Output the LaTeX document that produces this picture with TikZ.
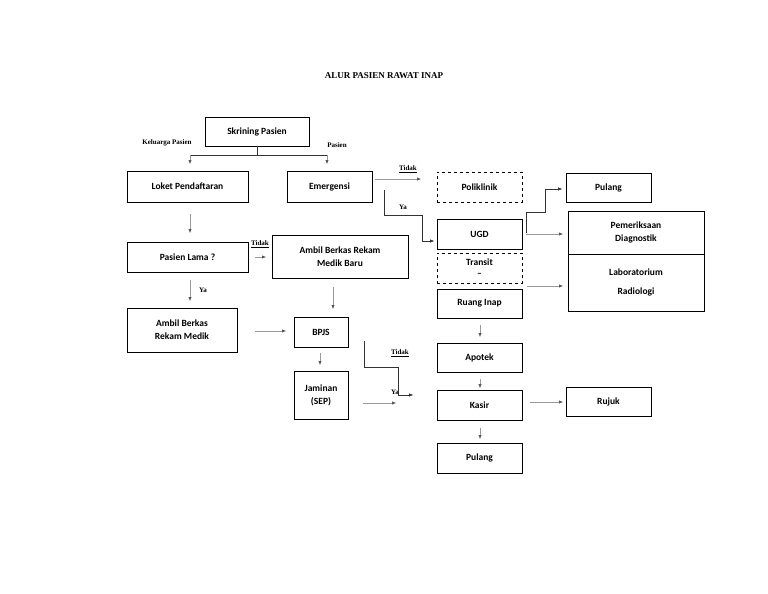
\documentclass[tikz,border=0pt]{standalone}
\usepackage{fontspec}
\setmainfont{Carlito}
\newfontfamily\lbl{Liberation Serif}
\usetikzlibrary{arrows.meta}
\begin{document}
\begin{tikzpicture}[x=1pt,y=-1pt,
 bx/.style={draw,thick,font=\bfseries\fontsize{9.5}{13}\selectfont,align=center,inner sep=0pt},
 dbx/.style={bx,dashed},
 ar/.style={draw=gray!80,-{Triangle[length=4pt,width=3pt,fill=black]}},
 ln/.style={draw=black!80},
 lb/.style={font=\lbl\bfseries\fontsize{7}{8}\selectfont,inner sep=0pt}]
\path[use as bounding box] (0,0) rectangle (768,594);
\newcommand{\bxx}[7][bx]{\node[#1,minimum width={#5-#3},minimum height={#6-#4}] (#2) at ({(#3+#5)/2},{(#4+#6)/2}) {#7};}
\node[font=\lbl\bfseries\fontsize{9}{10}\selectfont] (title) at (384,76) {ALUR PASIEN RAWAT INAP};
\bxx{skr}{205}{117}{309}{146}{Skrining Pasien}
\bxx{loket}{127}{171}{248}{202}{Loket Pendaftaran}
\bxx{emg}{287}{171}{372}{202}{Emergensi}
\bxx[dbx]{poli}{437}{172}{522}{202}{Poliklinik}
\bxx{pul1}{566}{173}{651}{202}{Pulang}
\bxx{ugd}{437}{219}{522}{249}{UGD}
\bxx{diag}{568}{211}{704}{254}{Pemeriksaan\\Diagnostik}
\bxx{lab}{568}{254}{704}{311}{Laboratorium\\[6pt]Radiologi}
\bxx[dbx]{trans}{437}{253}{522}{283}{Transit\\[-2pt]–}
\bxx{ri}{437}{289}{522}{318}{Ruang Inap}
\bxx{plama}{127}{242}{248}{272}{Pasien Lama ?}
\bxx{baru}{272}{235}{408}{278}{Ambil Berkas Rekam\\Medik Baru}
\bxx{arm}{127}{308}{237}{352}{Ambil Berkas\\Rekam Medik}
\bxx{bpjs}{294}{317}{348}{347}{BPJS}
\bxx{jam}{294}{371}{348}{419}{Jaminan\\(SEP)}
\bxx{apo}{437}{343}{522}{372}{Apotek}
\bxx{kasir}{437}{390}{522}{420}{Kasir}
\bxx{rujuk}{566}{387}{651}{416}{Rujuk}
\bxx{pul2}{437}{443}{522}{473}{Pulang}
% labels
\node[lb] (lk) at (167,143) {Keluarga Pasien};
\node[lb] (lp) at (337,145) {Pasien};
\node[lb] (lt1) at (408,169) {\underline{Tidak}};
\node[lb] (ly1) at (403,207) {Ya};
\node[lb] (lt2) at (260,244) {\underline{Tidak}};
\node[lb] (ly2) at (203,290) {Ya};
\node[lb] (lt3) at (400,353) {\underline{Tidak}};
\node[lb] (ly3) at (395,392) {Ya};
% connectors
\coordinate (s1) at (skr.south);
\coordinate (s2) at (257,155);
\draw[ln] (s1) -- (s2);
\draw[ln] (190,155) -- (327,155);
\draw[ar] (190,155) -- (190,164);
\draw[ar] (327,155) -- (327,164);
\draw[ar] (190,214) -- (190,233);
\draw[ar] (255,257) -- (266,257);
\draw[ar] (190,280) -- (190,301);
\draw[ar] (333,287) -- (333,309);
\draw[ar] (255,331) -- (286,331);
\draw[ar] (320,353) -- (320,365);
\draw[ar] (363,403) -- (396,403);
\draw[ln,-{Triangle[length=4pt,width=3pt]}] (364,341) -- (364,367) -- (398,367) -- (398,395) -- (413,395);
\draw[ar] (375,179) -- (421,179);
\draw[ln,-{Triangle[length=4pt,width=3pt]}] (384,190) -- (384,215) -- (422,215) -- (422,241) -- (434,241);
\draw[ln,-{Triangle[length=4pt,width=3pt]}] (526,233) -- (526,212) -- (545,212) -- (545,189) -- (562,189);
\draw[ar] (526,234) -- (563,234);
\draw[ar] (527,286) -- (563,286);
\draw[ar] (480,325) -- (480,337);
\draw[ar] (480,379) -- (480,388);
\draw[ar] (530,402) -- (563,402);
\draw[ar] (480,428) -- (480,439);
\end{tikzpicture}
\end{document}
